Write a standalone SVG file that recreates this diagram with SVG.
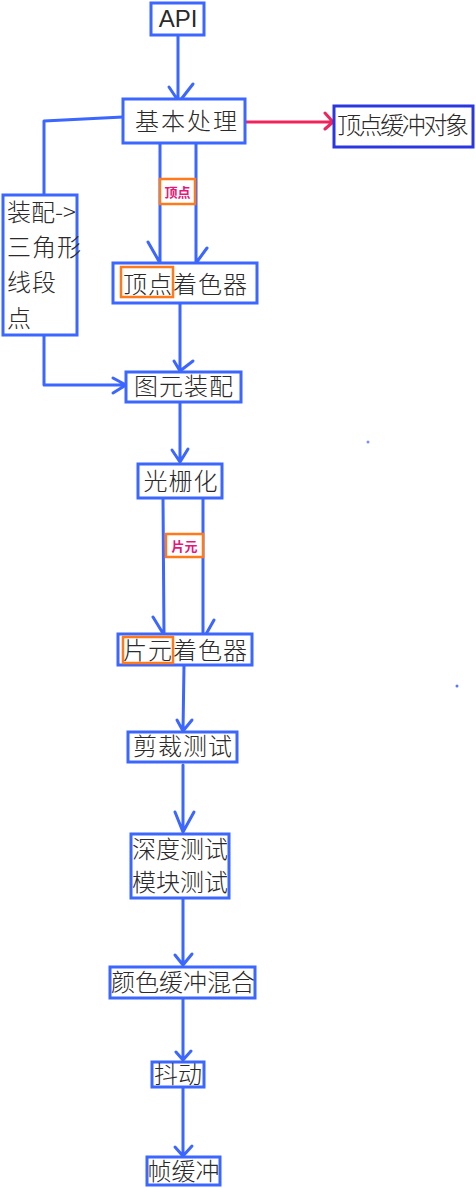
<svg xmlns="http://www.w3.org/2000/svg" width="476" height="1188" viewBox="0 0 476 1188">
<style>
.box{fill:#fff;stroke:#3b66ff;stroke-width:3}
.box2{fill:#fff;stroke:#2a36e0;stroke-width:3}
.tag{fill:#fff;stroke:#ff7a1a;stroke-width:2.5}
.t{font-family:"Noto Sans CJK SC","Noto Sans",sans-serif;fill:#2a2a2a;font-size:24px;font-weight:300}
.lbl{font-family:"Noto Sans CJK SC",sans-serif;fill:#e8157a;font-size:13px;font-weight:bold}
.ln{fill:none;stroke:#3b66ff;stroke-width:3;stroke-linecap:round;stroke-linejoin:round}
.red{fill:none;stroke:#f0245a;stroke-width:3;stroke-linecap:round;stroke-linejoin:round}
</style>
<rect width="476" height="1188" fill="#fff"/>
<g id="connectors">
<path class="ln" d="M178,35 V101 M169,87 L179,102 L193,84"/>
<path class="red" d="M245,122 H333 M325,113 L333,122 L325,129"/>
<path class="ln" d="M123,117 L44,121 V195"/>
<path class="ln" d="M44,335 V385 H126 M113,378 L126,385 L113,393"/>
<path class="ln" d="M160,143 V263 M148,242 L160,263"/>
<path class="ln" d="M196,143 V263 M207,248 L196,263"/>
<path class="ln" d="M180,303 V371 M174,361 L180,371 L193,361"/>
<path class="ln" d="M180,402 V462 M172,450 L180,462 L188,449"/>
<path class="ln" d="M163,498 L164,635 M153,617 L164,635"/>
<path class="ln" d="M203,498 V636 M214,620 L205,636"/>
<path class="ln" d="M184,665 L183,731 M177,720 L183,731 L192,720"/>
<path class="ln" d="M183,765 V832 M175,812 L183,832 L194,812"/>
<path class="ln" d="M183,898 V965 M175,955 L183,965 L192,954"/>
<path class="ln" d="M183,998 V1060 M176,1052 L183,1060 L191,1051"/>
<path class="ln" d="M183,1087 V1156 M175,1147 L183,1156 L192,1146"/>
</g>
<g id="api"><rect class="box" x="151" y="3" width="53" height="32"/><text class="t" x="178" y="27" text-anchor="middle" font-size="20" style="font-family:'Liberation Sans',sans-serif;font-weight:normal">API</text></g>
<g id="basic"><rect class="box" x="123" y="99" width="122" height="44"/><text class="t" x="135" y="130" font-size="25" textLength="102">基本处理</text></g>
<g id="vbo"><rect class="box2" x="334" y="106" width="139" height="41"/><text class="t" x="337" y="134" font-size="21.5" textLength="132">顶点缓冲对象</text></g>
<g id="assembly-types"><rect class="box" x="3" y="195" width="74" height="140"/>
<text class="t" x="7" y="221" font-size="21">装配-&gt;</text>
<text class="t" x="7" y="256" font-size="21" letter-spacing="1">三角形</text>
<text class="t" x="7" y="291" font-size="21" letter-spacing="1">线段</text>
<text class="t" x="7" y="327" font-size="21">点</text></g>
<g id="vertex-label"><rect class="tag" x="160" y="179" width="35" height="25"/><text class="lbl" x="177.5" y="197" text-anchor="middle">顶点</text></g>
<g id="vertex-shader"><rect class="box" x="113" y="263" width="144" height="40"/><rect class="tag" x="121" y="267" width="52" height="30"/><text class="t" x="123" y="293" letter-spacing="1">顶点着色器</text></g>
<g id="primitive"><rect class="box" x="126" y="372" width="115" height="30"/><text class="t" x="184" y="395" text-anchor="middle" letter-spacing="1">图元装配</text></g>
<g id="raster"><rect class="box" x="138" y="464" width="84" height="34"/><text class="t" x="181" y="490" text-anchor="middle" letter-spacing="1">光栅化</text></g>
<g id="fragment-label"><rect class="tag" x="166" y="534" width="37" height="23"/><text class="lbl" x="184.5" y="551" text-anchor="middle">片元</text></g>
<g id="fragment-shader"><rect class="box" x="118" y="634" width="134" height="31"/><rect class="tag" x="123" y="637" width="50" height="26"/><text class="t" x="123" y="659" letter-spacing="1">片元着色器</text></g>
<g id="clip"><rect class="box" x="128" y="732" width="109" height="30"/><text class="t" x="183" y="755" text-anchor="middle" letter-spacing="1">剪裁测试</text></g>
<g id="depth"><rect class="box" x="131" y="834" width="98" height="64"/><text class="t" x="180" y="858" text-anchor="middle" font-size="23">深度测试</text><text class="t" x="180" y="891" text-anchor="middle" font-size="23">模块测试</text></g>
<g id="blend"><rect class="box" x="110" y="967" width="145" height="31"/><text class="t" x="183" y="991" text-anchor="middle" font-size="23">颜色缓冲混合</text></g>
<g id="dither"><rect class="box" x="152" y="1062" width="52" height="25"/><text class="t" x="178" y="1083" text-anchor="middle" font-size="22">抖动</text></g>
<g id="framebuffer"><rect class="box" x="147" y="1157" width="73" height="28"/><text class="t" x="183.5" y="1180" text-anchor="middle" font-size="22">帧缓冲</text></g>
<circle cx="368" cy="442" r="1.5" fill="#7a92ff"/>
<circle cx="457" cy="686" r="1.5" fill="#5a78ff"/>
</svg>
